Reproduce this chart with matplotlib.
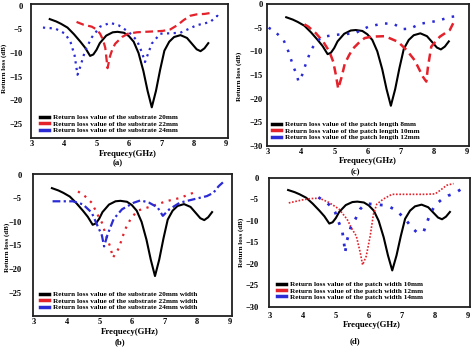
import matplotlib
matplotlib.use('Agg')
import matplotlib.pyplot as plt
from matplotlib.lines import Line2D

plt.rcParams['font.family'] = ['Liberation Serif', 'DejaVu Serif']
plt.rcParams['font.weight'] = 'bold'

# reference antenna (20mm substrate / 8mm length / 10mm width) - same curve in all panels
freq_ref = [3.55, 3.75, 3.9, 4.1, 4.3, 4.5, 4.65, 4.8, 4.9, 5.0, 5.1, 5.3, 5.5, 5.65, 5.85,
            6.0, 6.15, 6.3, 6.45, 6.58, 6.71, 6.84, 6.97, 7.1, 7.25, 7.4, 7.6, 7.8, 7.95,
            8.1, 8.22, 8.34, 8.46]
rl_ref = [-2.8, -3.3, -3.8, -4.6, -6.0, -7.6, -8.9, -10.6, -10.3, -9.3, -7.9, -6.3, -5.6, -5.5, -5.7,
          -6.4, -7.6, -10.0, -13.8, -18.0, -21.5, -18.0, -13.5, -9.5, -7.6, -6.6, -6.2, -6.8, -8.0,
          -9.2, -9.6, -9.0, -7.9]

# (a) substrate 22mm / 24mm
freq_a22 = [4.38, 4.6, 4.85, 5.0, 5.11, 5.2, 5.27, 5.34, 5.42, 5.5, 5.58, 5.79, 5.97, 6.25,
            6.5, 6.8, 7.05, 7.28, 7.5, 7.7, 7.9, 8.1, 8.35, 8.62]
rl_a22 = [-3.4, -4.0, -4.4, -5.0, -5.9, -7.2, -8.9, -13.2, -10.6, -9.0, -8.0, -6.6, -5.9, -5.6,
          -5.5, -5.4, -5.3, -5.0, -4.1, -3.0, -2.1, -1.8, -1.7, -1.4]
freq_a24 = [3.34, 3.72, 4.03, 4.2, 4.32, 4.41, 4.5, 4.65, 4.86, 5.11, 5.42, 5.68, 5.99, 6.25,
            6.4, 6.5, 6.71, 6.97, 7.3, 7.59, 7.85, 8.1, 8.35, 8.52, 8.74, 8.82]
rl_a24 = [-4.6, -4.8, -5.9, -7.8, -10.5, -14.6, -12.8, -9.4, -6.6, -4.4, -3.6, -4.1, -5.5, -7.3,
          -9.8, -11.9, -8.0, -5.9, -5.8, -5.7, -4.9, -4.1, -3.7, -3.4, -2.1, -3.0]

# (b) substrate width 22mm / 24mm
freq_b22 = [4.35, 4.56, 4.77, 4.97, 5.08, 5.23, 5.34, 5.42, 5.6, 5.7, 5.8, 5.96, 6.17, 6.63,
            7.05, 7.47, 7.88]
rl_b22 = [-3.5, -4.5, -5.9, -8.7, -10.1, -13.3, -15.3, -17.6, -15.6, -13.5, -11.5, -9.4, -7.6,
          -6.6, -5.6, -4.9, -3.8]
freq_b24 = [3.57, 3.99, 4.19, 4.5, 4.77, 4.92, 5.08, 5.15, 5.25, 5.44, 5.7, 6.06, 6.27, 6.53,
            6.79, 6.95, 7.15, 7.47, 7.88, 8.3, 8.5, 8.66, 8.82]
rl_b24 = [-5.6, -5.6, -5.6, -6.25, -8.0, -10.4, -12.8, -15.2, -12.8, -9.4, -7.3, -5.9, -5.4,
          -5.9, -6.9, -8.7, -7.3, -5.9, -5.2, -4.5, -3.8, -2.4, -1.4]

# (c) patch length 10mm / 12mm
freq_c10 = [4.1, 4.22, 4.45, 4.67, 4.85, 4.97, 5.05, 5.12, 5.22, 5.32, 5.45, 5.57, 5.77, 5.92,
            6.13, 6.53, 6.93, 7.18, 7.43, 7.68, 7.78, 7.83, 7.93, 8.19, 8.49, 8.64]
rl_c10 = [-4.3, -4.8, -6.2, -8.0, -10.0, -12.2, -15.0, -17.9, -15.5, -12.6, -10.8, -9.4, -8.0,
          -7.2, -6.9, -6.8, -8.0, -9.7, -11.9, -15.4, -16.4, -13.3, -9.0, -6.9, -5.5, -3.4]
freq_c12 = [3.02, 3.25, 3.47, 3.62, 3.77, 3.87, 3.92, 4.03, 4.13, 4.3, 4.48, 4.68, 5.07, 5.62,
            6.03, 6.48, 6.79, 7.08, 7.3, 7.58, 8.09, 8.54, 8.8]
rl_c12 = [-5.0, -6.1, -7.6, -10.1, -13.3, -15.0, -16.4, -15.0, -12.9, -9.7, -7.8, -6.9, -6.5,
          -6.2, -4.8, -4.1, -4.2, -5.3, -5.2, -4.2, -3.6, -2.7, -2.5]

# (d) patch width 12mm / 14mm
freq_d12 = [3.57, 3.98, 4.22, 4.5, 4.79, 5.09, 5.34, 5.5, 5.62, 5.74, 5.81, 5.92, 6.04, 6.14,
            6.24, 6.44, 6.7, 7.3, 7.7, 8.01, 8.16, 8.36, 8.57]
rl_d12 = [-5.8, -5.1, -4.8, -4.7, -5.7, -7.2, -9.6, -12.0, -13.5, -17.4, -20.2, -18.2, -13.5,
          -8.4, -6.1, -4.9, -3.8, -3.8, -3.8, -3.7, -2.9, -1.7, -1.3]
freq_d14 = [4.47, 4.7, 4.88, 4.98, 5.05, 5.15, 5.2, 5.23, 5.26, 5.28, 5.33, 5.45, 5.59, 5.74,
            5.89, 5.99, 6.25, 6.55, 6.85, 7.15, 7.3, 7.45, 7.66, 7.76, 7.86, 8.01, 8.21, 8.41,
            8.62, 8.82]
rl_d14 = [-4.5, -5.6, -6.8, -8.0, -9.6, -11.5, -12.7, -14.3, -15.9, -17.4, -14.7, -11.5, -9.6,
          -7.2, -6.05, -6.0, -6.2, -6.4, -7.6, -10.0, -11.5, -12.6, -12.6, -10.4, -8.4, -6.3,
          -5.0, -4.1, -3.5, -2.5]

labels_a = ['Return loss value of the substrate 20mm',
            'Return loss value of the substrate 22mm',
            'Return loss value of the substrate 24mm']
labels_b = ['Return loss value of the substrate 20mm width',
            'Return loss value of the substrate 22mm width',
            'Return loss value of the substrate 24mm width']
labels_c = ['Return loss value of the patch length 8mm',
            'Return loss value of the patch length 10mm',
            'Return loss value of the patch length 12mm']
labels_d = ['Return loss value of the patch width 10mm',
            'Return loss value of the patch width 12mm',
            'Return loss value of the patch width 14mm']

RED = '#e3222b'
BLUE = '#2b2bd6'

fig = plt.figure(figsize=(4.74, 3.47), dpi=100)
ax_a = fig.add_axes([0.0654, 0.6023, 0.4156, 0.3862])
ax_c = fig.add_axes([0.5633, 0.5793, 0.4262, 0.4092])
ax_b = fig.add_axes([0.0696, 0.0893, 0.4198, 0.4092])
ax_d = fig.add_axes([0.5675, 0.1153, 0.4241, 0.3718])


def style_axes(ax, ylim, yticks, ylab_xy, ypad, xpad, labels, leg_xy):
    ax.set_xlim(2.97, 9.07)
    ax.set_ylim(*ylim)
    ax.set_xticks(range(3, 10))
    ax.set_yticks(yticks)
    ax.tick_params(length=0, labelsize=6)
    ax.tick_params(axis='y', pad=ypad)
    ax.tick_params(axis='x', pad=xpad)
    for sp in ax.spines.values():
        sp.set_linewidth(1.3)
        sp.set_color('#202020')
    ax.set_ylabel('Return loss (dB)', fontsize=5, fontweight='bold')
    ax.yaxis.set_label_coords(*ylab_xy)
    handles = [Line2D([], [], color=c, lw=2.5) for c in ('k', RED, BLUE)]
    ax.legend(handles, labels, loc='lower left', bbox_to_anchor=leg_xy, frameon=False,
              fontsize=5.2, handlelength=1.3, handletextpad=0.5, labelspacing=0.05,
              borderpad=0, borderaxespad=0)


# (a)
ax_a.plot(freq_ref, rl_ref, color='k', lw=1.5)
ax_a.plot(freq_a22, rl_a22, color=RED, lw=1.6, linestyle=(0, (3.5, 2)))
ax_a.plot(freq_a24, rl_a24, color=BLUE, lw=1.6, linestyle=(0, (1, 2)))
style_axes(ax_a, (-28, 0.4), range(0, -26, -5), (-0.122, 0.52), 6, 1.2, labels_a, (0.045, 0.035))

# (c)
ax_c.plot(freq_ref, rl_ref, color='k', lw=1.5)
ax_c.plot(freq_c10, rl_c10, color=RED, lw=1.8, linestyle=(0, (3.3, 2)))
ax_c.plot(freq_c12, rl_c12, color=BLUE, lw=1.8, linestyle=(0, (1, 3)))
style_axes(ax_c, (-30, 0), range(0, -31, -5), (-0.124, 0.49), 3, 1.5, labels_c, (0.025, 0.04))

# (b)
ax_b.plot(freq_ref, rl_ref, color='k', lw=1.5)
ax_b.plot(freq_b22, rl_b22, color=RED, lw=1.6, linestyle=(0, (1, 2.5)))
ax_b.plot(freq_b24, rl_b24, color=BLUE, lw=1.6, linestyle=(0, (3.5, 1.5, 1, 1.5)))
style_axes(ax_b, (-30, 0.2), range(0, -26, -5), (-0.116, 0.48), 8, 1.5, labels_b, (0.035, 0.04))

# (d)
ax_d.plot(freq_ref, rl_ref, color='k', lw=1.5)
ax_d.plot(freq_d12, rl_d12, color=RED, lw=1.2, linestyle=(0, (1, 1)))
ax_d.plot(freq_d14, rl_d14, color=BLUE, lw=2.0, linestyle=(0, (1, 3)))
style_axes(ax_d, (-30, 0), range(0, -31, -5), (-0.124, 0.50), 7.5, 3.5, labels_d, (0.04, 0.054))

xlab_pos = [(0.270, 0.556), (0.776, 0.536), (0.274, 0.043), (0.785, 0.063)]
tag_pos = [(0.249, 0.530), (0.749, 0.504), (0.253, 0.014), (0.749, 0.017)]
for (x, y), (tx, ty), tag in zip(xlab_pos, tag_pos, ['(a)', '(c)', '(b)', '(d)']):
    fig.text(x, y, 'Frequecy(GHz)', ha='center', va='center', fontsize=6.3, fontweight='bold')
    fig.text(tx, ty, tag, ha='center', va='center', fontsize=6.3, fontweight='bold')

fig.savefig('out.png', dpi=100)
